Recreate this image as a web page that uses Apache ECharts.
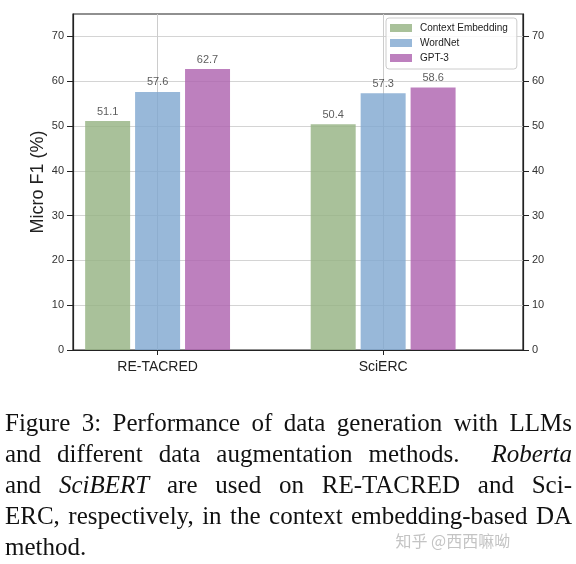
<!DOCTYPE html>
<html>
<head>
<meta charset="utf-8">
<script src="https://cdn.jsdelivr.net/npm/echarts@6/dist/echarts.min.js"></script>
<style>
  html, body { margin: 0; padding: 0; background: #fff; }
  #wrap { position: relative; width: 576px; height: 564px; overflow: hidden; }
  #chart { position: absolute; left: 0; top: 0; width: 576px; height: 564px; }
  #caption { position: absolute; left: 5px; top: 407px; width: 567px;
    font-family: "Liberation Serif", "Times New Roman", serif; font-size: 25px;
    line-height: 31px; color: #111; }
  #caption .ln { display: block; white-space: nowrap; text-align: justify; text-align-last: justify; }
  #caption .last { text-align: left; text-align-last: left; }
</style>
</head>
<body>
<div id="wrap">
  <div id="chart"></div>
  <div id="caption">
    <span class="ln">Figure 3: Performance of data generation with LLMs</span>
    <span class="ln">and different data augmentation methods. &nbsp;<i>Roberta</i></span>
    <span class="ln">and <i>SciBERT</i> are used on RE-TACRED and Sci-</span>
    <span class="ln">ERC, respectively, in the context embedding-based DA</span>
    <span class="ln last">method.</span>
  </div>
</div>
<script>
const categories = ["RE-TACRED", "SciERC"];
const seriesNames = ["Context Embedding", "WordNet", "GPT-3"];
const contextEmbedding = [51.1, 50.4];
const wordNet = [57.6, 57.3];
const gpt3 = [62.7, 58.6];
const yTicks = [0, 10, 20, 30, 40, 50, 60, 70];

const colors = ["rgb(148,178,129)", "rgb(126,166,207)", "rgb(172,96,174)"];
const values = [contextEmbedding, wordNet, gpt3];
const catIdx = categories.map((c, i) => i);

const chart = echarts.init(document.getElementById('chart'), null, { renderer: 'canvas' });

const axisLabelStyle = { color: '#333', fontSize: 11, fontFamily: 'Liberation Sans, Arial, sans-serif' };

const option = {
  animation: false,
  backgroundColor: '#fff',
  grid: { left: 73, right: 53, top: 14, bottom: 214, show: true, borderColor: '#222', borderWidth: 1.2, containLabel: false },
  legend: {
    data: seriesNames,
    orient: 'vertical',
    left: 386, top: 18,
    itemWidth: 22, itemHeight: 8, itemGap: 3,
    padding: [4, 9, 5, 4],
    borderColor: '#ccc', borderWidth: 1, borderRadius: 3,
    backgroundColor: 'rgba(255,255,255,0.85)',
    textStyle: { fontSize: 10, color: '#222', lineHeight: 12, padding: [0, 0, 0, 3], fontFamily: 'Liberation Sans, Arial, sans-serif' },
    icon: 'rect'
  },
  xAxis: {
    type: 'value', min: -0.375, max: 1.62,
    axisLine: { show: true, onZero: false, lineStyle: { color: '#222', width: 1.2 } },
    axisTick: { show: true, customValues: catIdx, length: 5, lineStyle: { color: '#222' } },
    axisLabel: { customValues: catIdx, formatter: v => categories[Math.round(v)] || '', fontSize: 14, color: '#222', margin: 10, fontFamily: 'Liberation Sans, Arial, sans-serif' },
    splitLine: { show: true, lineStyle: { color: '#ccc', width: 1 } }
  },
  yAxis: [
    {
      type: 'value', min: 0, max: 75, interval: 10,
      name: 'Micro F1 (%)', nameLocation: 'middle', nameGap: 26, nameMoveOverlap: false,
      nameTextStyle: { fontSize: 18, color: '#222', fontFamily: 'Liberation Sans, Arial, sans-serif' },
      axisLine: { show: true, onZero: false, lineStyle: { color: '#222', width: 1.2 } },
      axisTick: { show: true, length: 6, inside: false, lineStyle: { color: '#222' }, customValues: yTicks },
      axisLabel: Object.assign({ margin: 9, customValues: yTicks }, axisLabelStyle),
      splitLine: { show: true, lineStyle: { color: '#d4d4d4', width: 1 } }
    },
    {
      type: 'value', min: 0, max: 75, interval: 10, position: 'right',
      axisLine: { show: true, onZero: false, lineStyle: { color: '#222', width: 1.2 } },
      axisTick: { show: true, length: 6, lineStyle: { color: '#222' }, customValues: yTicks },
      axisLabel: Object.assign({ margin: 9, customValues: yTicks }, axisLabelStyle),
      splitLine: { show: false }
    }
  ],
  series: seriesNames.map((name, s) => ({
    name: name,
    type: 'bar',
    yAxisIndex: 0,
    barWidth: 45,
    barGap: '11%',
    itemStyle: { color: colors[s], opacity: 0.8 },
    label: { show: true, position: 'top', distance: 4, fontSize: 11, color: '#333', fontFamily: 'Liberation Sans, Arial, sans-serif', formatter: p => p.value[1].toFixed(1) },
    data: catIdx.map(i => [i, values[s][i]])
  })),
  graphic: [
    { type: 'text', left: 395, top: 532, z: 100,
      style: { text: '知乎 @西西嘛呦', fontSize: 16, fill: '#c4c4c4', stroke: 'rgba(255,255,255,0.8)', lineWidth: 1, fontFamily: 'Noto Sans CJK SC, sans-serif' } }
  ]
};
chart.setOption(option);
</script>
</body>
</html>
